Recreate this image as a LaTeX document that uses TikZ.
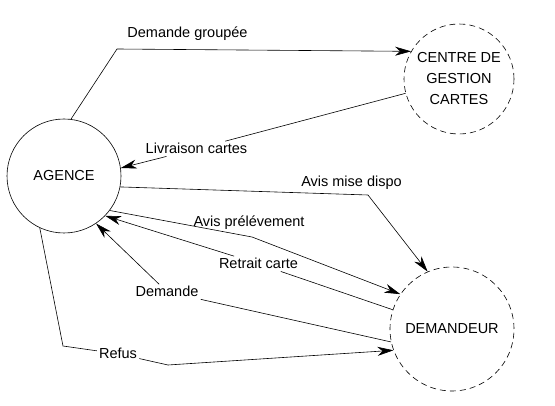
\documentclass[tikz,border=0pt]{standalone}
\usepackage{fontspec}
\setmainfont{Liberation Sans}
\usetikzlibrary{arrows.meta}

\begin{document}
\begin{tikzpicture}[x=1pt,y=-1pt,line width=0.6pt,
    font=\fontsize{14.5}{21}\selectfont,
    actor/.style={draw,circle,inner sep=0pt,align=center},
    extern/.style={actor,dash pattern=on 6pt off 4pt},
    flow/.style={-{Stealth[length=16pt,width=9pt,inset=5pt]}},
    lbl/.style={inner sep=2pt,anchor=base}]
  \useasboundingbox (0,0) rectangle (555,406);
  \node[actor,minimum size=114pt] (agence) at (64,176) {AGENCE};
  \node[extern,minimum size=110pt] (centre) at (459,79) {CENTRE DE\\GESTION\\CARTES};
  \node[extern,minimum size=124pt] (demandeur) at (452,329) {DEMANDEUR};
  \node[lbl] (dglbl) at (187.5,38) {Demande groupée};
  \node[lbl] (lc) at (196.5,154) {Livraison cartes};
  \node[lbl] (amdlbl) at (351.5,187) {Avis mise dispo};
  \node[lbl] (aplbl) at (249,227) {Avis prélévement};
  \node[lbl] (rc) at (258.5,269) {Retrait carte};
  \node[lbl] (dem) at (167,297) {Demande};
  \node[lbl] (refus) at (118,359) {Refus};
  \coordinate (dg) at (117,49);
  \coordinate (amd) at (368,195);
  \coordinate (ap) at (252,237);
  \coordinate (rf1) at (63,346);
  \coordinate (rf2) at (168,365);
  \draw[flow] (agence.83) -- (dg) -- (centre.150);
  \draw[flow] (centre.195) -- (lc) -- (agence.8);
  \draw[flow] (agence.-11) -- (amd) -- (demandeur.113);
  \draw[flow] (agence.-37) -- (ap) -- (demandeur.146);
  \draw[flow] (demandeur.162) -- (rc) -- (agence.-44);
  \draw[flow] (demandeur.192) -- (dem) -- (agence.-56);
  \draw[flow] (agence.245) -- (rf1) -- (refus) -- (rf2) -- (demandeur.200);
\end{tikzpicture}
\end{document}
